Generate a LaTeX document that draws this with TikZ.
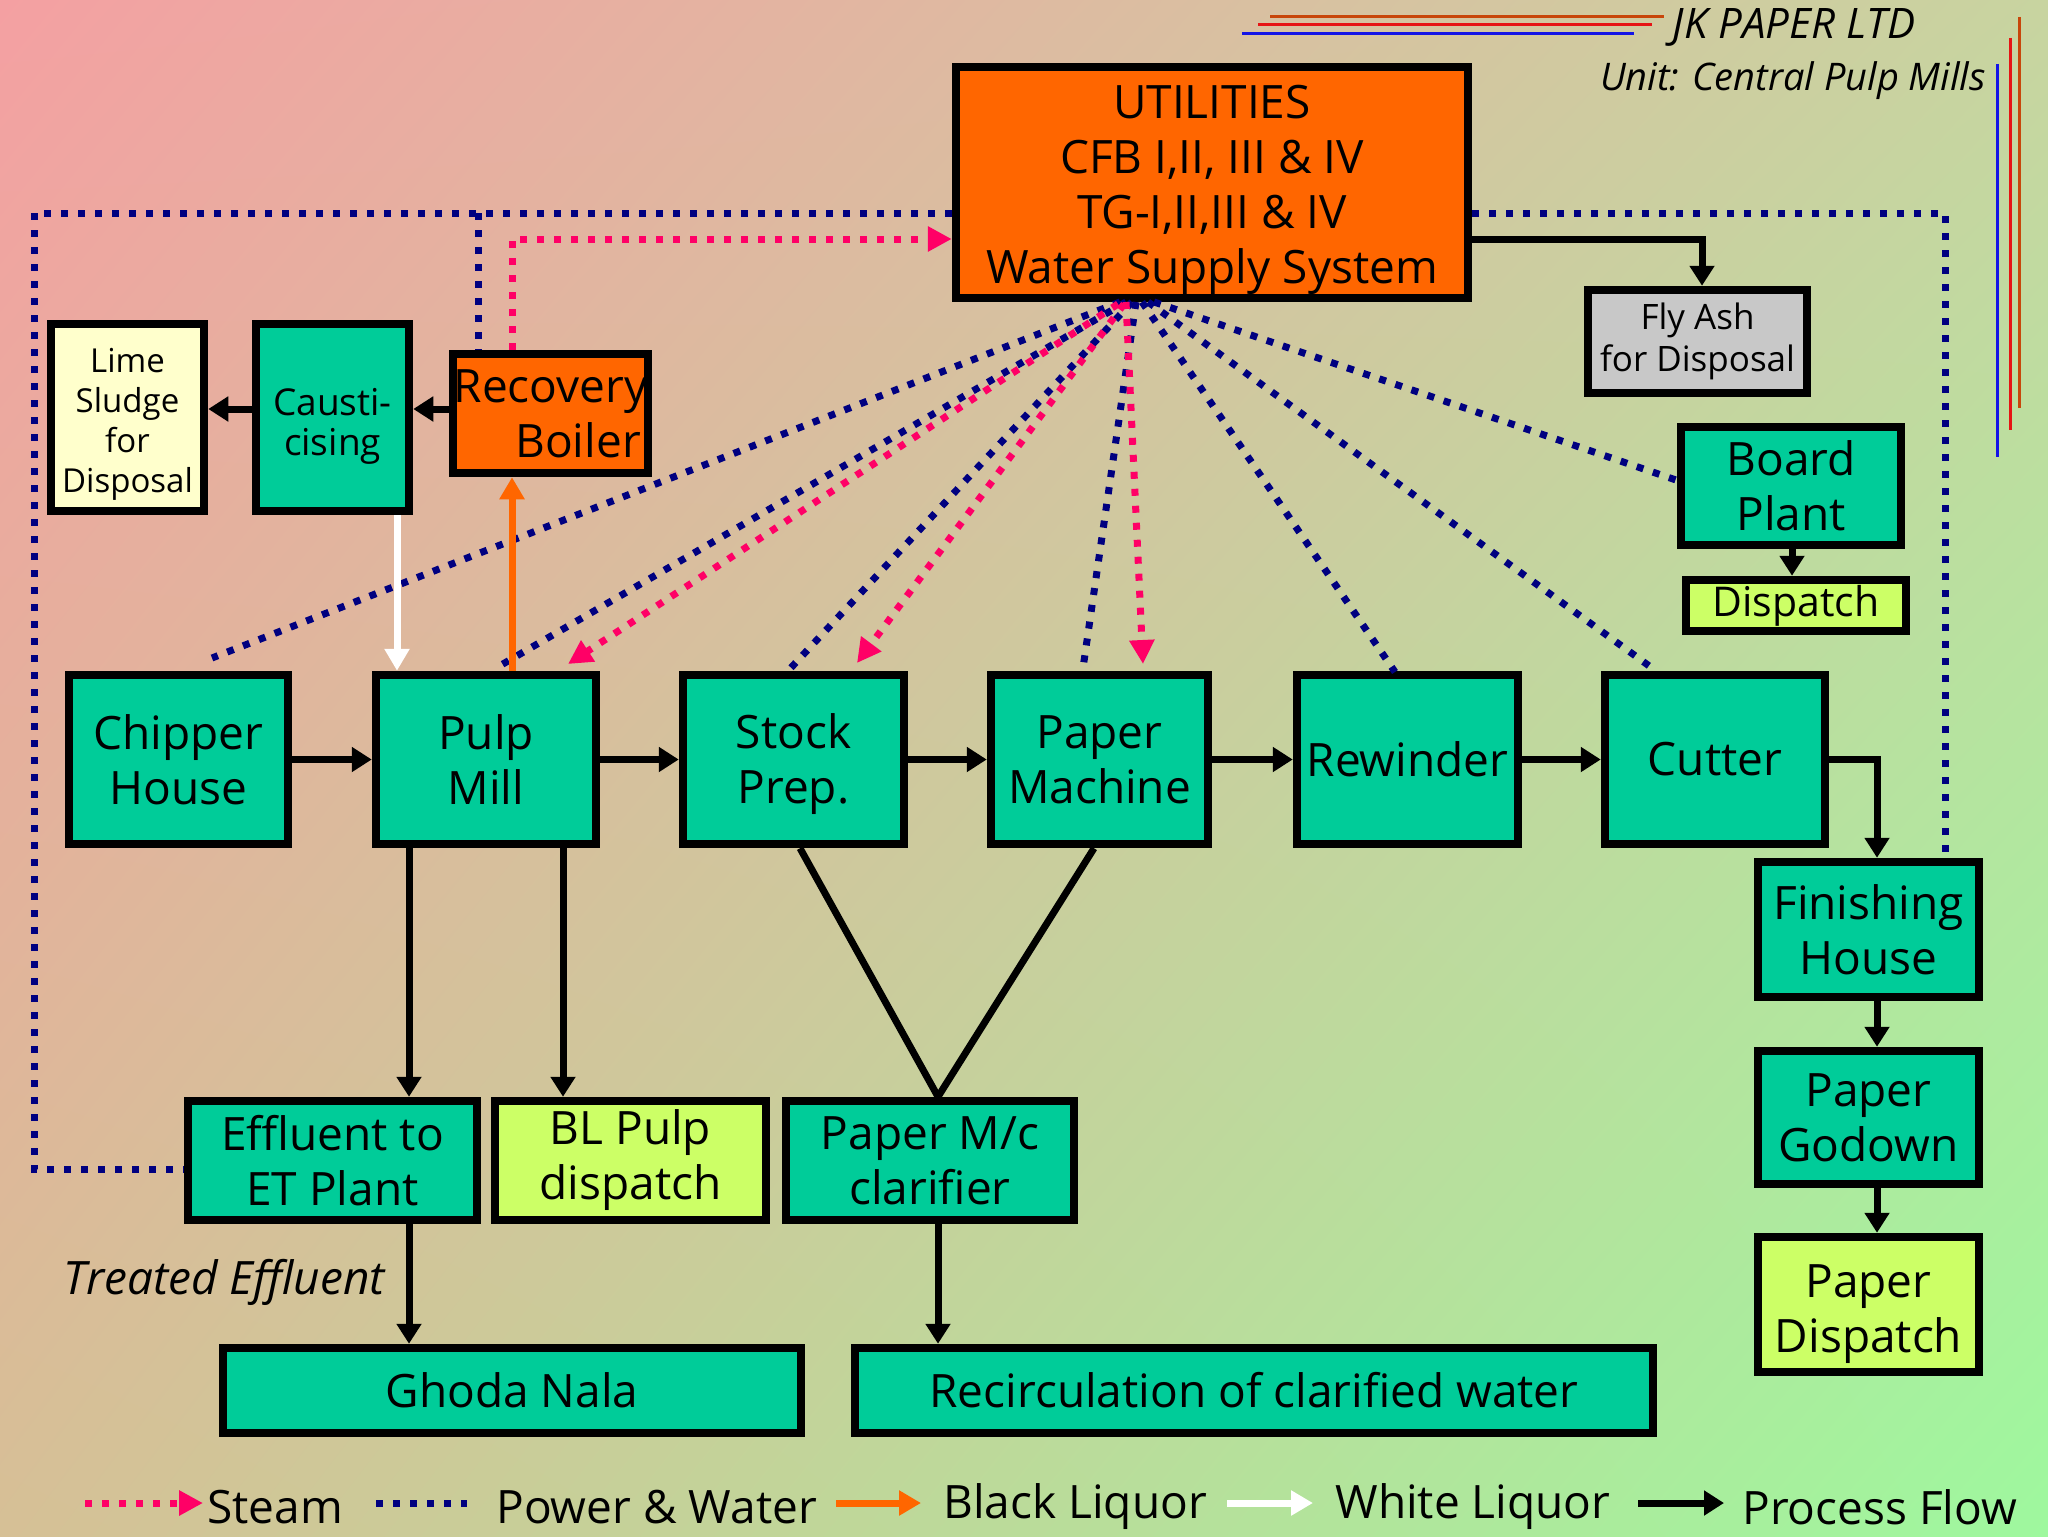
\documentclass[tikz,border=0pt]{standalone}
\usepackage{fontspec}
\setmainfont{Open Sans}
\usetikzlibrary{arrows.meta,shadings}
\definecolor{teal1}{RGB}{0,204,153}
\definecolor{orng}{RGB}{255,102,0}
\definecolor{navyc}{RGB}{0,0,128}
\definecolor{pinkc}{RGB}{255,0,102}
\definecolor{ylw}{RGB}{204,255,102}
\definecolor{cream}{RGB}{255,255,204}
\definecolor{grayc}{RGB}{200,200,200}
\definecolor{bgUL}{RGB}{244,160,162}
\definecolor{bgUR}{RGB}{200,212,160}
\definecolor{bgLL}{RGB}{214,192,150}
\definecolor{bgLR}{RGB}{158,248,158}
\definecolor{lnbrown}{RGB}{200,70,10}
\definecolor{lnred}{RGB}{230,20,20}
\definecolor{lnblue}{RGB}{20,20,230}
\newcommand\mainfs{\fontsize{23}{27.5}\selectfont}
\newcommand\legfs{\fontsize{23}{27}\selectfont}
\begin{document}
\begin{tikzpicture}[x=0.5pt,y=-0.5pt,
  box/.style={draw=black,line width=4.25pt,inner sep=0pt,align=center,font=\mainfs},
  tbox/.style={box,fill=teal1},
  wh/.style 2 args={minimum width=#1pt,minimum height=#2pt},
  pf/.style={draw=black,line width=3.5pt,-{Triangle[length=10pt,width=12pt]}},
  pfl/.style={draw=black,line width=3.5pt},
  pw/.style={draw=navyc,line width=3.5pt,dash pattern=on 3.5pt off 5pt},
  st/.style={draw=pinkc,line width=3.5pt,dash pattern=on 3.5pt off 5pt,-{Triangle[length=12pt,width=12pt]}},
  bl/.style={draw=orng,line width=3.5pt,-{Triangle[length=11pt,width=12pt]}},
  wl/.style={draw=white,line width=3.5pt,-{Triangle[length=11pt,width=12pt]}},
  deco/.style={line width=1.5pt}
]
\shade[upper left=bgUL,upper right=bgUR,lower left=bgLL,lower right=bgLR] (0,0) rectangle (2048,1536);
\useasboundingbox (0,0) rectangle (2048,1536);

% title
\draw[deco,lnbrown] (1270,17) -- (1664,17);
\draw[deco,lnred] (1258,25) -- (1652,25);
\draw[deco,lnblue] (1242,34) -- (1634,34);
\draw[deco,lnbrown] (2019,17) -- (2019,408);
\draw[deco,lnred] (2010,38) -- (2010,430);
\draw[deco,lnblue] (1997,64) -- (1997,457);
\node[font=\fontsize{21}{25}\selectfont\itshape] (t1) at (1794,27) {JK PAPER LTD};
\node[font=\fontsize{19}{23}\selectfont\itshape] (t2) at (1793,81) {Unit: Central Pulp Mills};

% boxes
\node[box,fill=orng,wh={256}{115.5}] (util) at (1212,182.5) {\rule{0pt}{24.5pt}UTILITIES\\CFB I,II, III \& IV\\TG-I,II,III \& IV\\Water Supply System};
\node[box,fill=grayc,font=\fontsize{17.5}{21}\selectfont,wh={109.5}{51.5}] (fly) at (1697.5,341.5) {Fly Ash\\for Disposal};
\node[tbox,wh={110}{59}] (board) at (1791,486) {Board\\Plant};
\node[box,fill=ylw,font=\fontsize{20.5}{24}\selectfont,wh={110}{25.5}] (disp) at (1796,605.5) {Dispatch};
\node[box,fill=cream,font=\fontsize{16.5}{20}\selectfont,wh={76.5}{93.5}] (lime) at (127.5,417.5) {\rule{0pt}{18.5pt}Lime\\Sludge\\for\\Disposal};
\node[tbox,font=\fontsize{18.5}{20}\selectfont,wh={76.5}{93.5}] (caus) at (332.5,417.5) {\rule{0pt}{22pt}Causti-\\cising};
\node[box,fill=orng,wh={97.5}{59.5}] (rec) at (550.5,413.5) {Recovery\\\hspace*{1.2em}Boiler};
\node[tbox,wh={109.5}{84.5}] (chip) at (178.5,759.5) {Chipper\\House};
\node[tbox,wh={110}{84.5}] (pulp) at (486,759.5) {Pulp\\Mill};
\node[tbox,wh={110.5}{84.5}] (stock) at (793.5,759.5) {\rule{0pt}{22pt}Stock\\Prep.};
\node[tbox,wh={108.5}{84.5}] (pm) at (1099.5,759.5) {Paper\\Machine};
\node[tbox,wh={110.5}{84.5}] (rew) at (1407.5,759.5) {Rewinder};
\node[tbox,wh={110}{84.5}] (cut) at (1715,759.5) {Cutter};
\node[tbox,wh={110.5}{67.5}] (fin) at (1868.5,929.5) {Finishing\\House};
\node[tbox,wh={110.5}{66.5}] (god) at (1868.5,1117.5) {Paper\\Godown};
\node[box,fill=ylw,wh={110.5}{67.5}] (pd) at (1868.5,1304.5) {\rule{0pt}{26.5pt}Paper\\Dispatch};
\node[tbox,wh={144.5}{59.5}] (eff) at (332.5,1160.5) {Effluent to\\ET Plant};
\node[box,fill=ylw,wh={135.5}{59.5}] (blp) at (630.5,1160.5) {BL Pulp\\dispatch};
\node[tbox,wh={144}{59.5}] (clar) at (930,1160.5) {Paper M/c\\clarifier};
\node[tbox,wh={289}{42.5}] (gh) at (512,1390.5) {Ghoda Nala};
\node[tbox,wh={399}{42.5}] (recirc) at (1254,1390.5) {Recirculation of clarified water};
\node[font=\fontsize{23}{27}\selectfont\itshape] (te) at (224,1282) {Treated Effluent};

% power & water loops
\coordinate (nL1) at (34,213);
\coordinate (nL2) at (34,1169);
\draw[pw] (util.west |- nL1) -- (nL1) -- (nL2) -- (nL2 -| eff.west);
\coordinate (nRb) at (478,213);
\draw[pw] (nRb) -- (nRb |- rec.north);
\coordinate (nR1) at (1945,213);
\draw[pw] (util.east |- nR1) -- (nR1) -- (nR1 |- fin.north);

% steam from recovery
\coordinate (sR) at (512,239);
\draw[st] (rec.north -| sR) -- (sR) -- (sR -| util.west);

% fly ash
\coordinate (fa) at (1702,239);
\draw[pf] (util.east |- fa) -- (fa) -- (fa |- fly.north);

% fan
\coordinate (o1) at (1120,302); \coordinate (e1) at (212,658);
\coordinate (o2) at (1126,302); \coordinate (e2) at (496,668);
\coordinate (o3) at (1118,304); \coordinate (e3) at (568,664);
\coordinate (o4) at (1132,302); \coordinate (e4) at (787,672);
\coordinate (o5) at (1124,304); \coordinate (e5) at (857,663);
\coordinate (o6) at (1136,302); \coordinate (e6) at (1083,668);
\coordinate (o7) at (1126,302); \coordinate (e7) at (1143,664);
\coordinate (o8) at (1142,302); \coordinate (e8) at (1395,672);
\coordinate (o9) at (1148,302); \coordinate (e9) at (1652,668);
\coordinate (o10) at (1154,302); \coordinate (e10) at (1676,480);
\draw[pw] (o1) -- (e1);
\draw[pw] (o2) -- (e2);
\draw[st] (o3) -- (e3);
\draw[pw] (o4) -- (e4);
\draw[st] (o5) -- (e5);
\draw[pw] (o6) -- (e6);
\draw[st] (o7) -- (e7);
\draw[pw] (o8) -- (e8);
\draw[pw] (o9) -- (e9);
\draw[pw] (o10) -- (e10);

% recovery area
\coordinate (yr) at (0,409);
\draw[pf] (rec.west |- yr) -- (caus.east |- yr);
\draw[pf] (caus.west |- yr) -- (lime.east |- yr);
\coordinate (xw) at (397,0);
\draw[wl] (caus.south -| xw) -- (pulp.north -| xw);
\coordinate (xo) at (512,0);
\draw[bl] (pulp.north -| xo) -- (rec.south -| xo);

% main process row
\draw[pf] (chip.east) -- (pulp.west);
\draw[pf] (pulp.east) -- (stock.west);
\draw[pf] (stock.east) -- (pm.west);
\draw[pf] (pm.east) -- (rew.west);
\draw[pf] (rew.east) -- (cut.west);
\coordinate (cf) at (1877,759.5);
\draw[pf] (cut.east) -- (cf) -- (cf |- fin.north);
\coordinate (xf) at (1877,0);
\draw[pf] (fin.south -| xf) -- (god.north -| xf);
\draw[pf] (god.south -| xf) -- (pd.north -| xf);
\coordinate (xbd) at (1792,0);
\draw[pf] (board.south -| xbd) -- (disp.north -| xbd);

% lower part
\coordinate (xe) at (409,0);
\draw[pf] (pulp.south -| xe) -- (eff.north -| xe);
\draw[pf] (eff.south -| xe) -- (gh.north -| xe);
\coordinate (xb) at (563,0);
\draw[pf] (pulp.south -| xb) -- (blp.north -| xb);
\coordinate (xs) at (800,0);
\coordinate (xp) at (1094,0);
\coordinate (xc) at (938,0);
\draw[pfl] (stock.south -| xs) -- (clar.north -| xc);
\draw[pfl] (pm.south -| xp) -- (clar.north -| xc);
\draw[pf] (clar.south -| xc) -- (recirc.north -| xc);

% legend
\coordinate (la1) at (85,1503); \coordinate (la2) at (203,1503);
\coordinate (lb1) at (376,1503); \coordinate (lb2) at (467,1503);
\coordinate (lc1) at (836,1503); \coordinate (lc2) at (921,1503);
\coordinate (ld1) at (1227,1503); \coordinate (ld2) at (1313,1503);
\coordinate (le1) at (1638,1503); \coordinate (le2) at (1724,1503);
\draw[st] (la1) -- (la2);
\draw[pw] (lb1) -- (lb2);
\draw[bl] (lc1) -- (lc2);
\draw[wl] (ld1) -- (ld2);
\draw[pf] (le1) -- (le2);
\node[font=\legfs,anchor=west,inner sep=0pt] (lt1) at (207,1507) {Steam};
\node[font=\legfs,anchor=west,inner sep=0pt] (lt2) at (496,1507) {Power \& Water};
\node[font=\legfs,anchor=west,inner sep=0pt] (lt3) at (943,1507) {Black Liquor};
\node[font=\legfs,anchor=west,inner sep=0pt] (lt4) at (1335,1507) {White Liquor};
\node[font=\legfs,anchor=west,inner sep=0pt] (lt5) at (1742,1507) {Process Flow};
\end{tikzpicture}
\end{document}
